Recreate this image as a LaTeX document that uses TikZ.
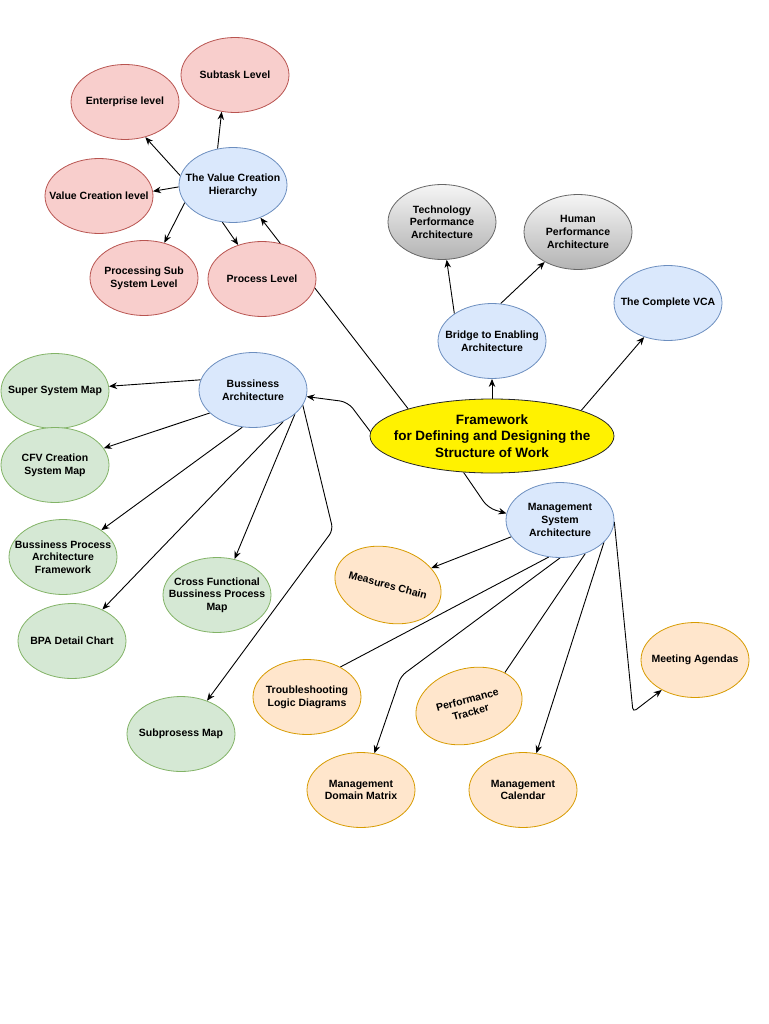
\documentclass[tikz,border=0pt]{standalone}
\usepackage{fontspec}
\setmainfont{Liberation Sans}
\usetikzlibrary{shapes.geometric,arrows.meta,backgrounds}

\definecolor{pinkfill}{HTML}{F8CECC}
\definecolor{pinkline}{HTML}{B85450}
\definecolor{bluefill}{HTML}{DAE8FC}
\definecolor{blueline}{HTML}{6C8EBF}
\definecolor{greenfill}{HTML}{D5E8D4}
\definecolor{greenline}{HTML}{82B366}
\definecolor{orangefill}{HTML}{FFE6CC}
\definecolor{orangeline}{HTML}{D79B00}
\definecolor{greytop}{HTML}{F5F5F5}
\definecolor{greybot}{HTML}{B3B3B3}
\definecolor{greyline}{HTML}{666666}

\begin{document}
\begin{tikzpicture}[x=1pt,y=-1pt,
  bubble/.style={ellipse,draw,line width=0.8pt,minimum width=108pt,minimum height=75pt,
    inner xsep=-15pt,inner ysep=0pt,align=center,
    font=\fontsize{10.5}{12.7}\selectfont\bfseries},
  pinkbub/.style={bubble,fill=pinkfill,draw=pinkline},
  bluebub/.style={bubble,fill=bluefill,draw=blueline},
  greenbub/.style={bubble,fill=greenfill,draw=greenline},
  orangebub/.style={bubble,fill=orangefill,draw=orangeline},
  greybub/.style={bubble,top color=greytop,bottom color=greybot,draw=greyline},
  mainbub/.style={bubble,fill=yellow,draw=black!85,minimum width=244pt,minimum height=74pt,
    inner xsep=-30pt,font=\fontsize{13.5}{16.5}\selectfont\bfseries},
  link/.style={line width=0.9pt,-{Stealth[length=8pt,width=6.5pt]}},
  plain/.style={line width=0.9pt}]
\useasboundingbox (0,0) rectangle (768,1024);

% centre
\node[mainbub] (fw) at (492,436) {Framework\\for Defining and Designing the\\Structure of Work};

% value creation hierarchy
\node[bluebub] (vch) at (233,185) {The Value Creation\\Hierarchy};
\node[pinkbub] (subtask) at (235,75) {Subtask Level};
\node[pinkbub] (enterprise) at (125,102) {Enterprise level};
\node[pinkbub] (vclevel) at (99,196) {Value Creation level};
\node[pinkbub] (procsub) at (144,278) {Processing Sub\\System Level};
\node[pinkbub] (proclevel) at (262,279) {Process Level};

% enabling architecture
\node[bluebub] (bridge) at (492,341) {Bridge to Enabling\\Architecture};
\node[greybub] (techperf) at (442,222) {Technology\\Performance\\Architecture};
\node[greybub] (humperf) at (578,232) {Human\\Performance\\Architecture};
\node[bluebub] (vca) at (668,303) {The Complete VCA};

% business architecture
\node[bluebub] (busarch) at (253,390) {Bussiness\\Architecture};
\node[greenbub] (supersys) at (55,391) {Super System Map};
\node[greenbub] (cfv) at (55,465) {CFV Creation\\System Map};
\node[greenbub] (bpaf) at (63,557) {Bussiness Process\\Architecture\\Framework};
\node[greenbub] (bpad) at (72,641) {BPA Detail Chart};
\node[greenbub] (crossfn) at (217,595) {Cross Functional\\Bussiness Process\\Map};
\node[greenbub] (subproc) at (181,734) {Subprosess Map};

% management system
\node[bluebub] (msa) at (560,520) {Management\\System\\Architecture};
\node[orangebub,rotate=-15] (measures) at (388,585) {Measures Chain};
\node[orangebub] (trouble) at (307,697) {Troubleshooting\\Logic Diagrams};
\node[orangebub,rotate=15] (perftrack) at (469,706) {Performance\\Tracker};
\node[orangebub] (meeting) at (695,660) {Meeting Agendas};
\node[orangebub] (domain) at (361,790) {Management\\Domain Matrix};
\node[orangebub] (calendar) at (523,790) {Management\\Calendar};

\begin{scope}[on background layer]
\draw[link] (vch.113) -- (subtask.250);
\draw[link] (vch.170) -- (enterprise.300);
\draw[link] (vch.182) -- (vclevel.5);
\draw[link] (vch.200) -- (procsub.60);
\draw[link] (vch.254) -- (proclevel.125);
\draw[link] (fw.162) -- (vch.310);

\draw[link] (fw) -- (bridge);
\draw[link] (bridge.144) -- (techperf.277);
\draw[link] (bridge.77) -- (humperf.222);
\draw[link] (fw.16) -- (vca.235);

\draw[link,rounded corners=8pt] (fw.178) -- (348,402) -- (busarch.353);
\draw[link] (busarch.169) -- (supersys.5);
\draw[link] (busarch.208) -- (cfv.19);
\draw[link] (busarch.254) -- (bpaf.35);
\draw[link] (busarch.314) -- (bpad.46);
\draw[link] (busarch.330) -- (crossfn.64);
\draw[link,rounded corners=6pt] (busarch.343) -- (333,530) -- (subproc.52);

\draw[link,rounded corners=8pt] (fw.232) -- (488,508) -- (msa.173);
\draw[link] (msa.199) -- (measures);
\draw[plain] (msa.253) -- (trouble.42);
\draw[link,rounded corners=6pt] (msa.270) -- (401,676) -- (domain.70);
\draw[plain] (msa.307) -- (perftrack.28);
\draw[link] (msa.333) -- (calendar.70);
\draw[link,rounded corners=4pt] (msa.358) -- (633,712) -- (meeting.222);
\end{scope}
\end{tikzpicture}
\end{document}
